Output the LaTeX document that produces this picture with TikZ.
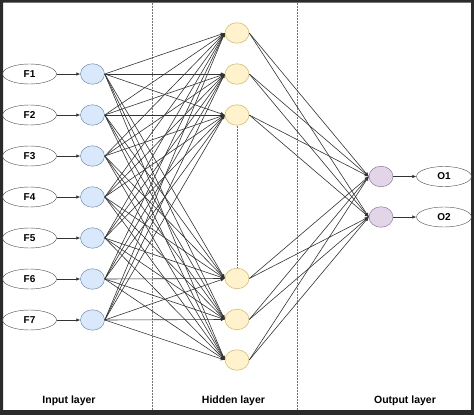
\documentclass[tikz,border=0pt]{standalone}
\usepackage{fontspec}
\setmainfont{Liberation Sans}
\usetikzlibrary{arrows.meta,shapes.geometric}

\definecolor{inFill}{HTML}{DAE8FC}
\definecolor{inDraw}{HTML}{6C8EBF}
\definecolor{hidFill}{HTML}{FFF2CC}
\definecolor{hidDraw}{HTML}{D6B656}
\definecolor{outFill}{HTML}{E1D5E7}
\definecolor{outDraw}{HTML}{9673A6}
\definecolor{frameGray}{HTML}{2B2B2B}

\tikzset{
  feat/.style={draw=black!70, ellipse, minimum width=54pt, minimum height=20pt,
    inner sep=0pt, font=\bfseries\normalsize},
  neuron/.style={ellipse, minimum width=24pt, minimum height=20.5pt, inner sep=0pt, line width=0.5pt},
  inneuron/.style={neuron, draw=inDraw, fill=inFill},
  hidneuron/.style={neuron, draw=hidDraw, fill=hidFill},
  outneuron/.style={neuron, draw=outDraw, fill=outFill},
  link/.style={-{Latex[length=4pt,width=3.5pt]}, draw=black!80, line width=0.6pt},
  layerline/.style={densely dotted, draw=black!55, line width=0.5pt},
  layername/.style={font=\bfseries\fontsize{10.5}{12}\selectfont}
}

\begin{document}
\begin{tikzpicture}[x=1pt,y=-1pt]
    \useasboundingbox (0,0) rectangle (474,415);

    % frame round the picture
    \fill[frameGray, even odd rule] (0,0) rectangle (474,415) (3,2.5) rectangle (471,410);

    % dotted lines between the layers
    \draw[layerline] (152.7,2.5) -- (152.7,410);
    \draw[layerline] (297,2.5) -- (297,410);

    % input features and input neurons
    \foreach \i in {1,...,7} {
        \node[feat] (f\i) at (29.5, {74+41*(\i-1)}) {F\i};
        \node[inneuron] (in\i) at (92.5, {74+41*(\i-1)}) {};
        \draw[link] (f\i.east) -- (in\i.west);
    }

    % hidden neurons
    \node[hidneuron] (h1) at (237,33) {};
    \node[hidneuron] (h2) at (237,74) {};
    \node[hidneuron] (h3) at (237,115) {};
    \node[hidneuron] (h4) at (237,278.5) {};
    \node[hidneuron] (h5) at (237,319.5) {};
    \node[hidneuron] (h6) at (237,360) {};
    \draw[layerline] (h3.south) -- (h4.north);

    % output neurons and outputs
    \node[outneuron] (o1) at (381,176.5) {};
    \node[outneuron] (o2) at (381,217) {};
    \node[feat, minimum width=55pt] (y1) at (444,176.5) {O1};
    \node[feat, minimum width=55pt] (y2) at (444,217) {O2};
    \draw[link] (o1.east) -- (y1.west);
    \draw[link] (o2.east) -- (y2.west);

    % all connections
    \foreach \i in {1,...,7}
        \foreach \j in {1,...,6}
            \draw[link] (in\i.east) -- (h\j.west);
    \foreach \j in {1,...,6}
        \foreach \k in {1,2}
            \draw[link] (h\j.east) -- (o\k.west);

    % layer names
    \node[layername] (inname) at (69,401) {Input layer};
    \node[layername] (hidname) at (233.5,401) {Hidden layer};
    \node[layername] (outname) at (405,401) {Output layer};
\end{tikzpicture}
\end{document}
